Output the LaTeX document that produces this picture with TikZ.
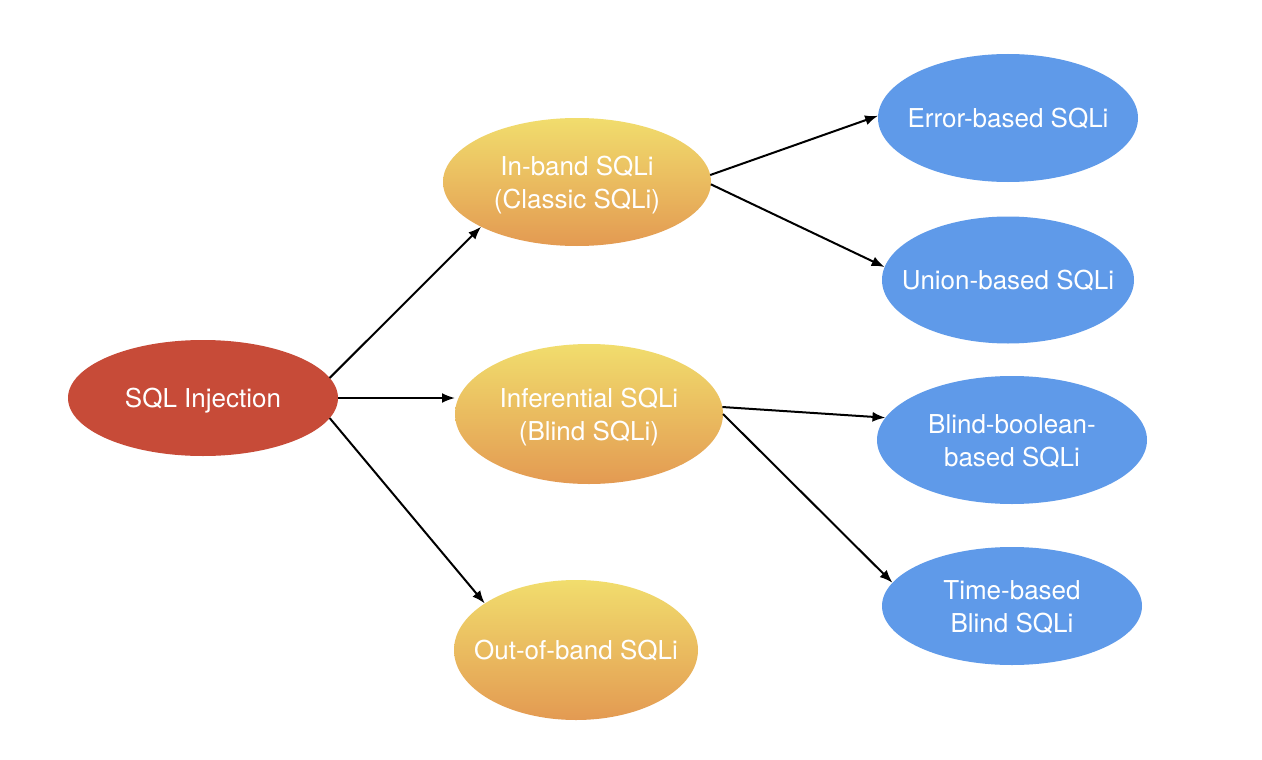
\documentclass[tikz,border=0pt]{standalone}
\usepackage{fontspec}
\setmainfont{TeX Gyre Heros}
\usetikzlibrary{shapes.geometric,arrows.meta}
\definecolor{sqlred}{HTML}{C74B38}
\definecolor{nodeblue}{HTML}{5F9AE9}
\definecolor{goldtop}{HTML}{F1DD6D}
\definecolor{goldbot}{HTML}{E39A52}
\newcommand{\lbl}[1]{\makebox[0pt]{\raisebox{-3pt}[\height][\depth]{\begin{tabular}{@{}c@{}}#1\end{tabular}}}}
\begin{document}
\begin{tikzpicture}[x=1pt,y=-1pt,
  oval/.style={ellipse, inner sep=0pt, outer sep=0pt, text=white, font=\fontsize{26}{33}\selectfont},
  rootnode/.style={oval, fill=sqlred},
  midnode/.style={oval, top color=goldtop, bottom color=goldbot},
  leafnode/.style={oval, fill=nodeblue},
  link/.style={line width=2pt, -{Latex[length=13pt,width=10pt]}}]
\fill[white] (0,0) rectangle (1262,760);
\useasboundingbox (0,0) rectangle (1262,760);

\node[rootnode, minimum width=270pt, minimum height=116pt] (sql) at (203,398) {\lbl{SQL Injection}};
\node[midnode, minimum width=268pt, minimum height=128pt] (inband) at (577,182) {\lbl{In-band SQLi\\(Classic SQLi)}};
\node[midnode, minimum width=268pt, minimum height=140pt] (infer) at (589,414) {\lbl{Inferential SQLi\\(Blind SQLi)}};
\node[midnode, minimum width=244pt, minimum height=140pt] (outband) at (576,650) {\lbl{Out-of-band SQLi}};
\node[leafnode, minimum width=260pt, minimum height=128pt] (error) at (1008,118) {\lbl{Error-based SQLi}};
\node[leafnode, minimum width=252pt, minimum height=127pt] (union) at (1008,280) {\lbl{Union-based SQLi}};
\node[leafnode, minimum width=270pt, minimum height=128pt] (blind) at (1012,440) {\lbl{Blind-boolean-\\based SQLi}};
\node[leafnode, minimum width=260pt, minimum height=118pt] (time) at (1012,606) {\lbl{Time-based\\Blind SQLi}};

\draw[link] (sql.9) -- (inband.205);
\draw[link] (sql.east) -- (sql.east -| infer.west);
\draw[link] (sql.351) -- (outband.153);
\draw[link] (inband.3) -- (error.179);
\draw[link] (inband.359) -- (union.174);
\draw[link] (infer.3) -- (blind.170);
\draw[link] (infer.0) -- (time.169);
\end{tikzpicture}
\end{document}
